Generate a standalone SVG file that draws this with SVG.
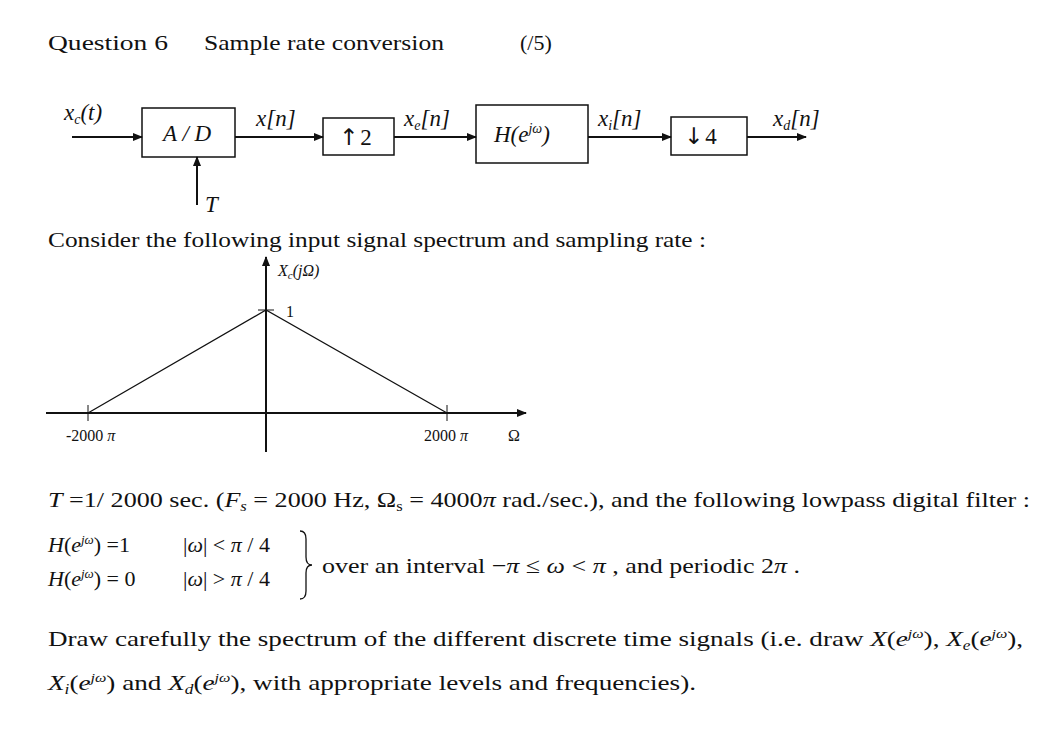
<svg xmlns="http://www.w3.org/2000/svg" width="1057" height="749" viewBox="0 0 1057 749">
<style>
text{font-family:"Liberation Serif",serif;fill:#111}
.t{font-size:22px}.m{font-size:23px;font-style:italic}.s{font-size:16px}
.b{fill:none;stroke:#111;stroke-width:1.5}
.l{stroke:#111;stroke-width:2;fill:none}
</style>
<defs><marker id="a" markerWidth="10" markerHeight="8" refX="9" refY="4" orient="auto" markerUnits="userSpaceOnUse"><path d="M0,0L10,4L0,8z" fill="#111"/></marker></defs>
<rect width="1057" height="749" fill="#fff"/>
<text x="48" y="50" class="t" textLength="120" lengthAdjust="spacingAndGlyphs">Question 6</text><text x="204" y="50" class="t" textLength="240" lengthAdjust="spacingAndGlyphs">Sample rate conversion</text><text x="520" y="50" class="t">(/5)</text>
<g id="ad"><rect class="b" x="142" y="108" width="93" height="49"/><text x="163" y="141" class="m">A / D</text></g>
<g id="up"><rect class="b" x="323" y="118" width="71" height="37"/><text x="339" y="145" style="font-size:23px"><tspan style="font-family:'DejaVu Sans',sans-serif">↑</tspan><tspan dx="2">2</tspan></text></g>
<g id="h"><rect class="b" x="476" y="105" width="112" height="58"/><text x="494" y="142" class="m">H(e<tspan dy="-9" font-size="14">jω</tspan><tspan dy="9">)</tspan></text></g>
<g id="down"><rect class="b" x="671" y="117" width="76" height="38"/><text x="684" y="144" style="font-size:23px"><tspan style="font-family:'DejaVu Sans',sans-serif">↓</tspan><tspan dx="2">4</tspan></text></g>
<g id="conn">
<line class="l" x1="72" y1="137" x2="142" y2="137" marker-end="url(#a)"/>
<line class="l" x1="235" y1="137" x2="323" y2="137" marker-end="url(#a)"/>
<line class="l" x1="394" y1="137" x2="476" y2="137" marker-end="url(#a)"/>
<line class="l" x1="588" y1="137" x2="671" y2="137" marker-end="url(#a)"/>
<line class="l" x1="747" y1="137" x2="806" y2="137" marker-end="url(#a)"/>
<line class="l" x1="197" y1="205" x2="197" y2="157" marker-end="url(#a)"/>
</g>
<text x="64" y="120" class="m">x<tspan font-size="14" dy="4">c</tspan><tspan dy="-4">(t)</tspan></text>
<text x="256" y="126" class="m">x[n]</text>
<text x="404" y="126" class="m">x<tspan font-size="14" dy="4">e</tspan><tspan dy="-4">[n]</tspan></text>
<text x="598" y="126" class="m">x<tspan font-size="14" dy="4">i</tspan><tspan dy="-4">[n]</tspan></text>
<text x="773" y="126" class="m">x<tspan font-size="14" dy="4">d</tspan><tspan dy="-4">[n]</tspan></text>
<text x="205" y="212" class="m">T</text>
<text x="48" y="247" class="t" textLength="658" lengthAdjust="spacingAndGlyphs">Consider the following input signal spectrum and sampling rate :</text>
<g id="plot">
<line class="l" x1="46" y1="413" x2="526" y2="413" marker-end="url(#a)"/>
<line class="l" x1="266" y1="452" x2="266" y2="257" marker-end="url(#a)"/>
<polyline points="88,413 266,310 447,413" fill="none" stroke="#111" stroke-width="1.3"/>
<line stroke="#111" x1="88" y1="405" x2="88" y2="421"/><line stroke="#111" x1="447" y1="405" x2="447" y2="421"/>
<line stroke="#111" x1="258" y1="310" x2="274" y2="310"/>
<text x="278" y="276" class="s" font-style="italic">X<tspan font-size="11" dy="3">c</tspan><tspan dy="-3">(jΩ)</tspan></text>
<text x="286" y="317" class="s">1</text>
<text x="66" y="441" class="s">-2000 <tspan font-style="italic">π</tspan></text>
<text x="424" y="441" class="s">2000 <tspan font-style="italic">π</tspan></text>
<text x="508" y="441" class="s">Ω</text>
</g>
<text x="48" y="507" class="t" textLength="982" lengthAdjust="spacingAndGlyphs"><tspan font-style="italic">T</tspan> =1/ 2000 sec. (<tspan font-style="italic">F<tspan font-size="14" dy="4">s</tspan></tspan><tspan dy="-4"> = 2000 Hz, Ω</tspan><tspan font-size="14" dy="4">s</tspan><tspan dy="-4"> = 4000<tspan font-style="italic">π</tspan> rad./sec.), and the following lowpass digital filter :</tspan></text>
<text x="48" y="552" class="t"><tspan font-style="italic">H</tspan>(<tspan font-style="italic">e<tspan font-size="13" dy="-8">jω</tspan></tspan><tspan dy="8">) =1</tspan></text>
<text x="183" y="552" class="t">|<tspan font-style="italic">ω</tspan>| &lt; <tspan font-style="italic">π</tspan> / 4</text>
<text x="48" y="586" class="t"><tspan font-style="italic">H</tspan>(<tspan font-style="italic">e<tspan font-size="13" dy="-8">jω</tspan></tspan><tspan dy="8">) = 0</tspan></text>
<text x="183" y="586" class="t">|<tspan font-style="italic">ω</tspan>| &gt; <tspan font-style="italic">π</tspan> / 4</text>
<path d="M300,531 q6,0 6,8 v18 q0,8 6,8 q-6,0 -6,8 v18 q0,8 -6,8" fill="none" stroke="#111" stroke-width="1.3"/>
<text x="322" y="573" class="t" textLength="478" lengthAdjust="spacingAndGlyphs">over an interval −<tspan font-style="italic">π</tspan> ≤ <tspan font-style="italic">ω</tspan> &lt; <tspan font-style="italic">π</tspan> , and periodic 2<tspan font-style="italic">π</tspan> .</text>
<text x="48" y="646" class="t" textLength="975" lengthAdjust="spacingAndGlyphs">Draw carefully the spectrum of the different discrete time signals (i.e. draw <tspan font-style="italic">X</tspan>(<tspan font-style="italic">e<tspan font-size="13" dy="-8">jω</tspan></tspan><tspan dy="8">), <tspan font-style="italic">X</tspan></tspan><tspan font-size="14" dy="4" font-style="italic">e</tspan><tspan dy="-4">(<tspan font-style="italic">e</tspan></tspan><tspan font-size="13" dy="-8" font-style="italic">jω</tspan><tspan dy="8">),</tspan></text>
<text x="48" y="690" class="t" textLength="648" lengthAdjust="spacingAndGlyphs"><tspan font-style="italic">X</tspan><tspan font-size="14" dy="4" font-style="italic">i</tspan><tspan dy="-4">(<tspan font-style="italic">e</tspan></tspan><tspan font-size="13" dy="-8" font-style="italic">jω</tspan><tspan dy="8">) and <tspan font-style="italic">X</tspan></tspan><tspan font-size="14" dy="4" font-style="italic">d</tspan><tspan dy="-4">(<tspan font-style="italic">e</tspan></tspan><tspan font-size="13" dy="-8" font-style="italic">jω</tspan><tspan dy="8">), with appropriate levels and frequencies).</tspan></text>
</svg>
